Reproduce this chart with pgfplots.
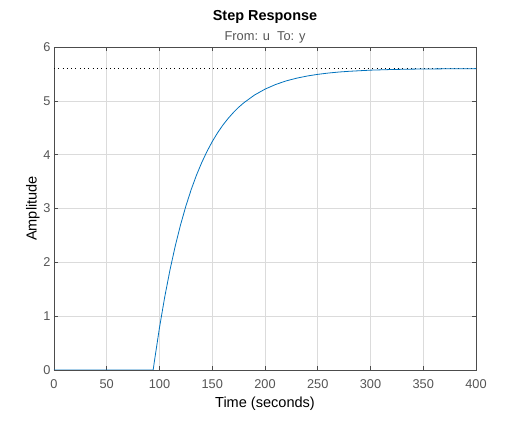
\documentclass[border=0pt]{standalone}
\usepackage{pgfplots}
\pgfplotsset{compat=1.18}
\usepackage{fontspec}
\setmainfont{Liberation Sans}
\definecolor{mblue}{HTML}{0072BD}
\definecolor{tickgray}{HTML}{555555}
\begin{document}
\begin{tikzpicture}
\begin{axis}[
    scale only axis,
    width=422bp, height=323bp,
    xmin=0, xmax=400,
    ymin=0, ymax=6,
    xtick={0,50,...,400},
    ytick={0,1,...,6},
    grid=major,
    grid style={draw=black!14, line width=0.5bp},
    axis line style={draw=black!70, line width=0.6bp},
    tick style={draw=black!70, line width=0.6bp},
    tick align=inside,
    major tick length=4bp,
    tick pos=both,
    /pgf/number format/assume math mode=true,
    ticklabel style={font=\fontsize{12.8}{15}\selectfont, text=tickgray},
    xticklabel style={anchor=base, yshift=-18.5bp},
    xlabel={Time (seconds)},
    ylabel={Amplitude},
    label style={font=\fontsize{14.6}{17}\selectfont},
    xlabel style={at={(axis description cs:0.5,0)}, anchor=base, yshift=-37bp},
    ylabel style={at={(axis description cs:-0.041,0.5)}, anchor=base},
]
  % steady-state level
  \addplot[black, line width=0.6bp, dash pattern=on 0.9bp off 3.4bp]
    coordinates {(0,5.6)(400,5.6)};
  % step response
  \addplot[mblue, line width=0.8bp]
    coordinates {
      (0,0)(94,0)(95,0.140)(100,0.789)(105,1.361)(110,1.865)(115,2.309)
      (120,2.700)(125,3.045)(130,3.349)(135,3.617)(140,3.852)(145,4.060)
      (150,4.243)(155,4.405)(160,4.547)(165,4.672)(170,4.782)(175,4.880)
      (180,4.965)(190,5.107)(200,5.217)(210,5.303)(220,5.370)(230,5.421)
      (240,5.461)(250,5.492)(260,5.516)(270,5.535)(280,5.549)(300,5.570)
      (320,5.582)(340,5.589)(360,5.593)(380,5.596)(400,5.598)
    };
\end{axis}
\node[anchor=base, font=\bfseries\fontsize{14.5}{17}\selectfont]
  at ([yshift=26.3bp]current axis.north) {Step Response};
\node[anchor=base, font=\fontsize{12.9}{15}\selectfont, text=tickgray]
  at ([yshift=6.3bp]current axis.north) {From: u\ \ To: y};
\path (current axis.south west) ++(-54bp,-53bp) rectangle ++(509bp,423bp);
\end{tikzpicture}
\end{document}
